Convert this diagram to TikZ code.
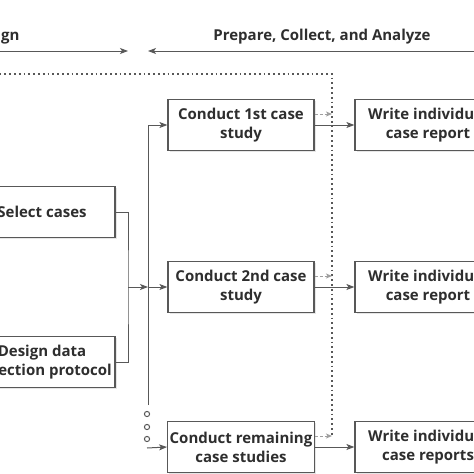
\documentclass[tikz,border=0pt]{standalone}
\usepackage{fontspec}
\setsansfont{Open Sans}
\usetikzlibrary{positioning,arrows.meta,shadows}
\definecolor{linegray}{HTML}{585858}
\definecolor{textgray}{HTML}{2E2E2E}
\tikzset{
  stage/.style={draw=linegray, line width=1.2pt, fill=white,
    minimum width=146pt, minimum height=51pt, align=center, inner sep=2pt,
    text=textgray, font=\sffamily\bfseries\fontsize{15}{19}\selectfont,
    drop shadow={shadow xshift=1.5pt, shadow yshift=-1.5pt, opacity=0.2}},
  flow/.style={-{Stealth[length=8pt,width=6pt,inset=2pt]}, draw=linegray, line width=1pt},
  loop/.style={draw=linegray, line width=1.3pt, dash pattern=on 1.8pt off 3pt},
  back/.style={-{Stealth[length=6pt,width=5pt,inset=1.5pt]}, draw=gray!75, line width=0.9pt, dash pattern=on 3pt off 2pt},
  phase/.style={text=textgray, font=\sffamily\bfseries\fontsize{15}{17}\selectfont}
}
\begin{document}
\begin{tikzpicture}[x=1pt, y=-1pt, node distance=187pt]
  \useasboundingbox (0,0) rectangle (474,474);
  \clip (0,0) rectangle (474,474);
  % phases
  \node[phase, anchor=east] (design) at (23,37) {Design};
  \node[phase] (collect) at (322,37) {Prepare, Collect, and Analyze};
  \coordinate (d0) at (-10,51);
  \coordinate (d1) at (128,51);
  \coordinate (p0) at (490,51);
  \coordinate (p1) at (148,51);
  \draw[flow] (d0) -- (d1);
  \draw[flow] (p0) -- (p1);
  % design boxes
  \node[stage] (sel) at (42,212) {Select cases};
  \node[stage] (proto) at (42,362) {Design data\\collection protocol};
  % case studies and reports
  \node[stage] (c1) at (241,125) {Conduct 1st case\\study};
  \node[stage] (r1) [right of=c1] {Write individual\\case report};
  \node[stage] (c2) at (241,287) {Conduct 2nd case\\study};
  \node[stage] (r2) [right of=c2] {Write individual\\case report};
  \node[stage] (c3) at (241,447) {Conduct remaining\\case studies};
  \node[stage] (r3) [right of=c3] {Write individual\\case reports};
  % feedback loop
  \coordinate (fb0) at (-10,74);
  \coordinate (fbtop) at (332,74);
  \coordinate (fbend) at (332,437);
  \draw[loop] (fb0) -- (fbtop) -- (fbend);
  \foreach \i in {1,2,3}
    \draw[back] ([yshift=11pt]c\i.east) -- ([yshift=11pt]c\i.east -| fbtop);
  % bus to the case studies
  \coordinate (j1) at (128,287);
  \coordinate (j2) at (148,287);
  \coordinate (bus) at (148,405);
  \coordinate (c3in) at (147,448);
  \draw[linegray, line width=1pt] (sel.east) -| (j1) |- (proto.east);
  \draw[flow] (j1) -- (j2);
  \draw[flow] (bus) |- (c1.west);
  \draw[flow] (j2) -- (c2.west);
  \foreach \y in {414,427,439}
    \draw[linegray, line width=1pt] (147,\y) circle (2.6pt);
  \draw[flow] (c3in) -- (c3.west);
  \foreach \i in {1,2,3}
    \draw[flow] (c\i.east) -- (r\i.west);
\end{tikzpicture}
\end{document}
